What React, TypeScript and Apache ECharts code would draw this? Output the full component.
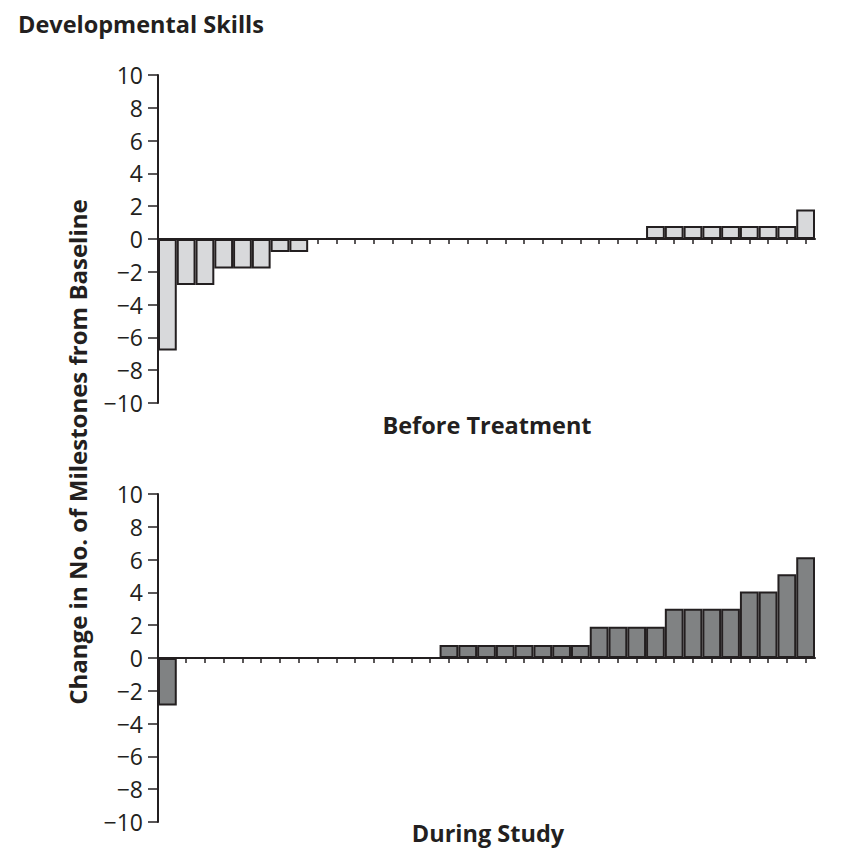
import React, { useEffect, useRef } from "react";
import * as echarts from "echarts";

const categories: string[] = Array.from({ length: 35 }, (_, i) => `P${i + 1}`);

const beforeTreatment: number[] = [
  -6.8, -2.8, -2.8, -1.8, -1.8, -1.8, -0.8, -0.8,
  0, 0, 0, 0, 0, 0, 0, 0, 0, 0, 0, 0, 0, 0, 0, 0, 0, 0,
  0.8, 0.8, 0.8, 0.8, 0.8, 0.8, 0.8, 0.8, 1.8,
];

const duringStudy: number[] = [
  -2.9,
  0, 0, 0, 0, 0, 0, 0, 0, 0, 0, 0, 0, 0, 0,
  0.8, 0.8, 0.8, 0.8, 0.8, 0.8, 0.8, 0.8,
  1.9, 1.9, 1.9, 1.9,
  3.0, 3.0, 3.0, 3.0,
  4.05, 4.05, 5.1, 6.15,
];

const yTicks: number[] = [-10, -8, -6, -4, -2, 0, 2, 4, 6, 8, 10];

const TITLE = "Developmental Skills";
const Y_LABEL = "Change in No. of Milestones from Baseline";
const TOP_LABEL = "Before Treatment";
const BOTTOM_LABEL = "During Study";

const INK = "#231f20";
const FONT = "'Open Sans', 'Noto Sans', sans-serif";

export default function App() {
  const ref = useRef<HTMLDivElement>(null);

  useEffect(() => {
    document.body.style.margin = "0";
    if (!ref.current) return;
    const chart = echarts.init(ref.current, undefined, { renderer: "svg" });

    const xAxisBase = (gridIndex: number) => ({
      type: "category" as const,
      gridIndex,
      data: categories,
      boundaryGap: true,
      axisLine: { onZero: true, lineStyle: { color: INK, width: 2 } },
      axisTick: {
        show: true,
        interval: 0,
        alignWithLabel: true,
        length: 5,
        lineStyle: { color: INK, width: 1.5 },
      },
      axisLabel: { show: false, interval: 0 },
      splitLine: { show: false },
    });

    const yAxisBase = (gridIndex: number) => ({
      type: "value" as const,
      gridIndex,
      min: yTicks[0],
      max: yTicks[yTicks.length - 1],
      interval: 2,
      axisLine: { show: true, lineStyle: { color: INK, width: 2 } },
      axisTick: { show: true, length: 10, lineStyle: { color: INK, width: 1.5 } },
      axisLabel: {
        color: INK,
        fontFamily: FONT,
        fontSize: 23,
        margin: 15,
        formatter: (v: number) => String(v).replace("-", "\u2212"),
      },
      splitLine: { show: false },
    });

    const barBase = {
      type: "bar" as const,
      barCategoryGap: "0%",
      itemStyle: { borderColor: INK, borderWidth: 2 },
      silent: true,
    };

    chart.setOption({
      animation: false,
      grid: [
        { left: 158, top: 75, width: 657, height: 328 },
        { left: 158, top: 494, width: 657, height: 328 },
      ],
      xAxis: [xAxisBase(0), xAxisBase(1)],
      yAxis: [yAxisBase(0), yAxisBase(1)],
      series: [
        {
          ...barBase,
          name: TOP_LABEL,
          xAxisIndex: 0,
          yAxisIndex: 0,
          data: beforeTreatment,
          itemStyle: { ...barBase.itemStyle, color: "#d8d9db" },
        },
        {
          ...barBase,
          name: BOTTOM_LABEL,
          xAxisIndex: 1,
          yAxisIndex: 1,
          data: duringStudy,
          itemStyle: { ...barBase.itemStyle, color: "#808283" },
        },
      ],
      graphic: [
        {
          type: "text",
          left: 18,
          top: 12,
          style: { text: TITLE, font: `bold 23.5px ${FONT}`, fill: INK },
        },
        {
          type: "text",
          x: 77,
          y: 452,
          rotation: Math.PI / 2,
          style: {
            text: Y_LABEL,
            font: `bold 24px ${FONT}`,
            fill: INK,
            align: "center",
            verticalAlign: "middle",
          },
        },
        {
          type: "text",
          x: 487,
          y: 425,
          style: {
            text: TOP_LABEL,
            font: `bold 23.5px ${FONT}`,
            fill: INK,
            align: "center",
            verticalAlign: "middle",
          },
        },
        {
          type: "text",
          x: 488,
          y: 833,
          style: {
            text: BOTTOM_LABEL,
            font: `bold 23.5px ${FONT}`,
            fill: INK,
            align: "center",
            verticalAlign: "middle",
          },
        },
      ],
    });

    return () => chart.dispose();
  }, []);

  return <div ref={ref} style={{ width: 865, height: 864 }} />;
}
